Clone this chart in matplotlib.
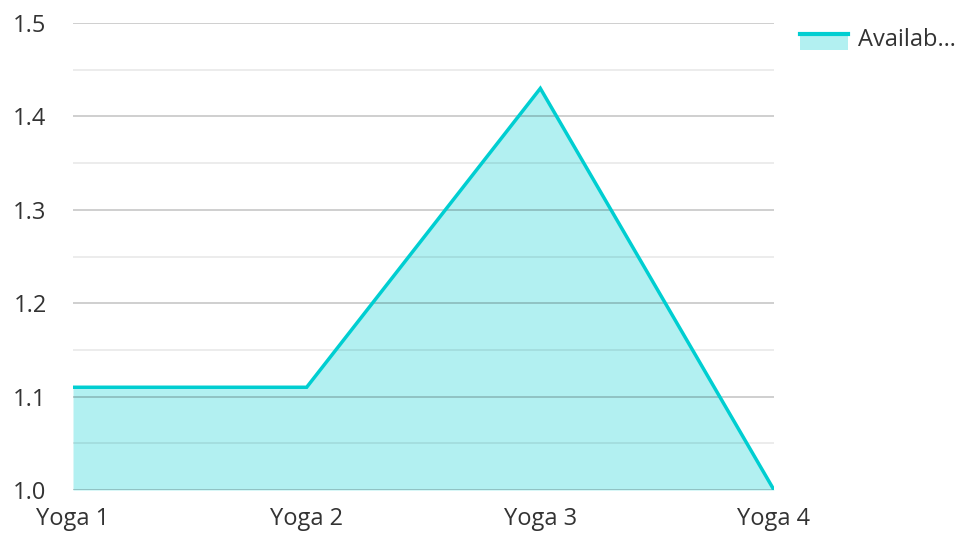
#!/usr/bin/env python3
"""Area chart: availability per yoga class."""
import matplotlib.pyplot as plt
from matplotlib.legend_handler import HandlerBase
from matplotlib.lines import Line2D
from matplotlib.patches import Rectangle

categories = ["Yoga 1", "Yoga 2", "Yoga 3", "Yoga 4"]
values = [1.11, 1.11, 1.43, 1.0]
series_name = "Availab…"

LINE = "#00CED1"
TEXT = "#333333"

plt.rcParams["font.family"] = ["Open Sans", "DejaVu Sans"]


class AreaHandler(HandlerBase):
    def create_artists(self, legend, orig, xd, yd, w, h, fontsize, trans):
        box = Rectangle((xd, yd - 0.25 * h), w, h * 0.95, facecolor=LINE,
                        alpha=0.3, edgecolor="none", transform=trans)
        ln = Line2D([xd, xd + w], [yd + 0.7 * h, yd + 0.7 * h],
                    color=LINE, linewidth=3, transform=trans)
        return [box, ln]


fig = plt.figure(figsize=(9.64, 5.33), dpi=100)
ax = fig.add_axes([73 / 964, 43 / 533, 701 / 964, 467 / 533])

x = list(range(len(categories)))
ax.fill_between(x, values, 1.0, color=LINE, alpha=0.3, linewidth=0, zorder=1)
line, = ax.plot(x, values, color=LINE, linewidth=2.5, zorder=3,
                solid_joinstyle="miter", label=series_name)

ax.set_xlim(0, len(categories) - 1)
ax.set_ylim(1.0, 1.5)
ax.set_xticks(x)
ax.set_xticklabels(categories)
ax.set_yticks([1.0, 1.1, 1.2, 1.3, 1.4, 1.5])
ax.set_yticks([1.05, 1.15, 1.25, 1.35, 1.45], minor=True)
ax.yaxis.set_major_formatter(plt.FuncFormatter(lambda v, p: f"{v:.1f}"))

ax.set_axisbelow(False)
ax.grid(axis="y", which="major", color="black", alpha=0.22, linewidth=1.2, zorder=2)
ax.grid(axis="y", which="minor", color="black", alpha=0.09, linewidth=1.2, zorder=2)
ax.grid(axis="x", visible=False)

for s in ax.spines.values():
    s.set_visible(False)
ax.tick_params(axis="both", which="both", length=0, labelsize=17,
               labelcolor=TEXT)
ax.tick_params(axis="y", pad=19)
ax.tick_params(axis="x", pad=12)

fig.legend(handles=[line], labels=[series_name], handler_map={line: AreaHandler()},
           loc="upper left", bbox_to_anchor=(800 / 964, 1 - 28 / 533),
           frameon=False, fontsize=17, handlelength=2.05, handletextpad=0.42,
           labelcolor=TEXT, borderpad=0, borderaxespad=0)

plt.savefig("out.png", dpi=100)
print("saved out.png")
